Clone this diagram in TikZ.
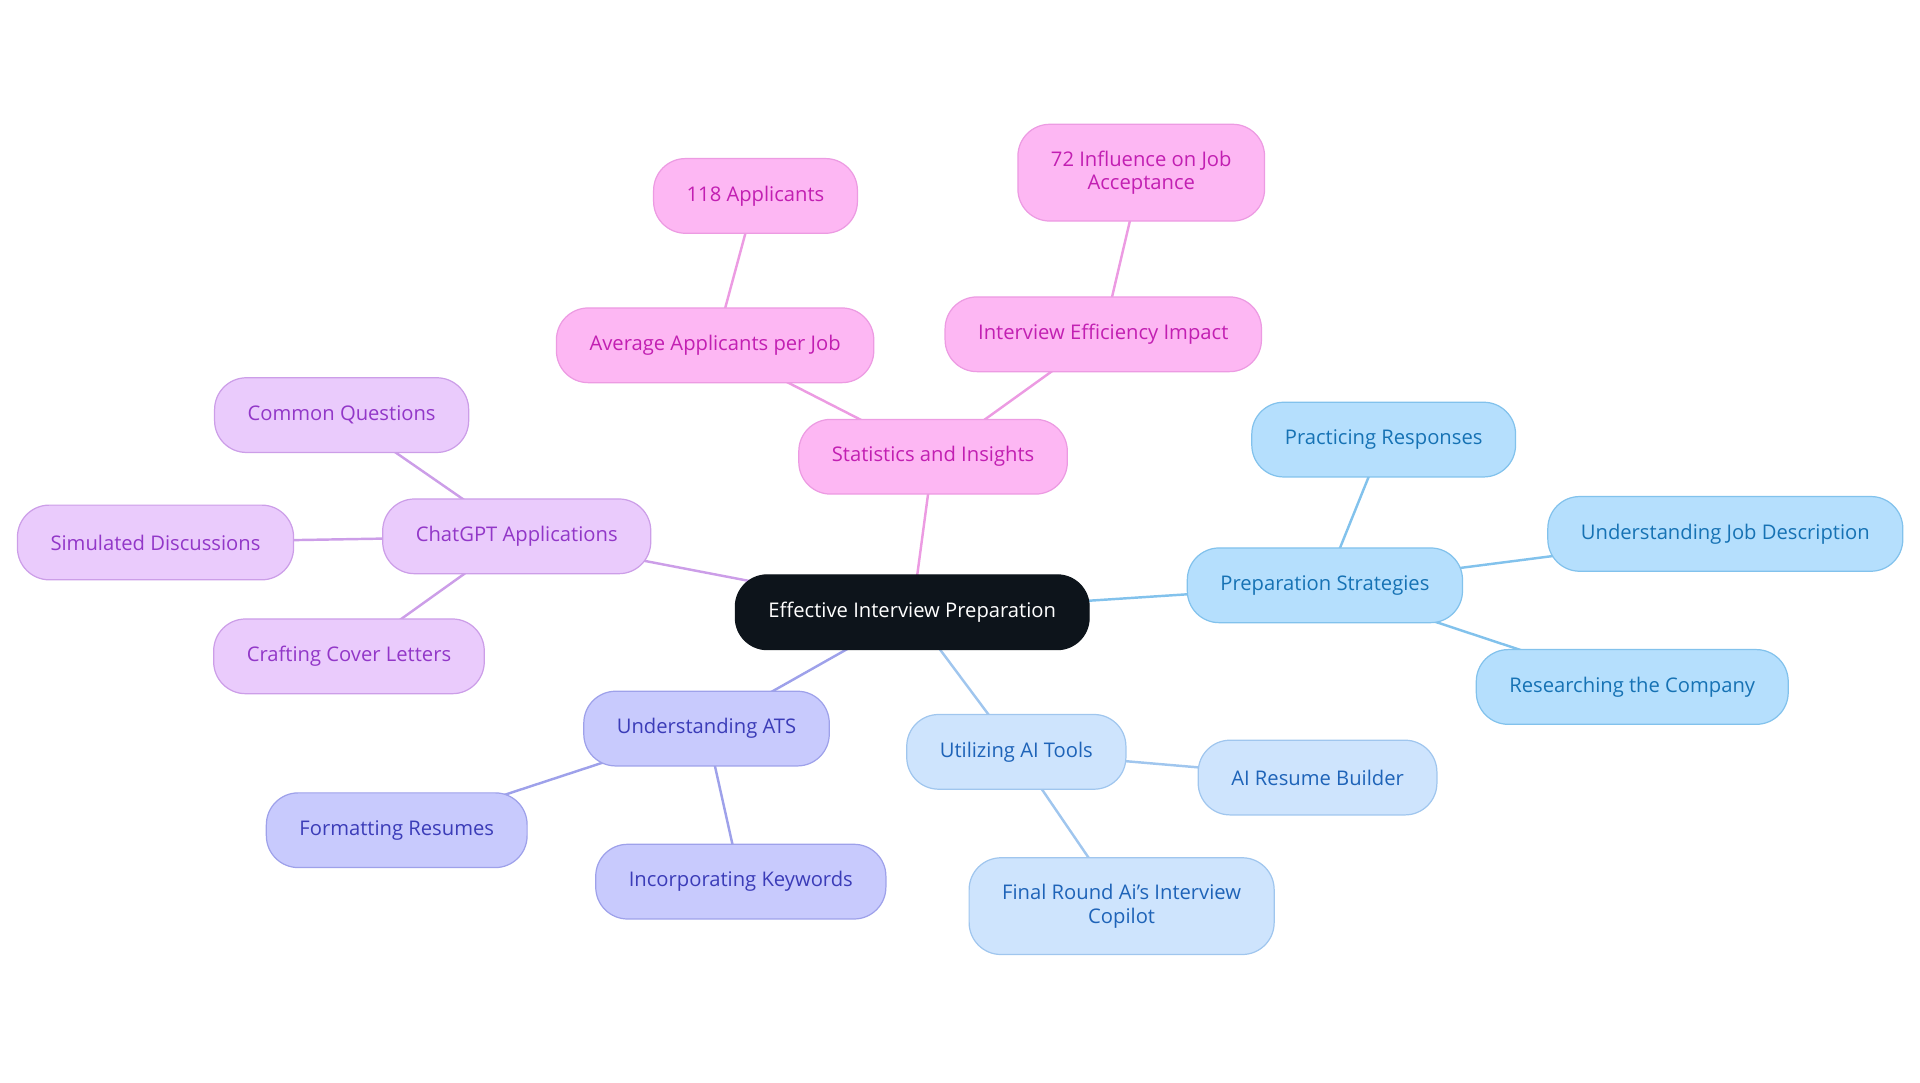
\documentclass[tikz,border=0pt]{standalone}
\usepackage{fontspec}
\setmainfont{Open Sans}
\usepackage{xcolor}
\definecolor{Ink}{RGB}{13,20,27}
\definecolor{White}{RGB}{255,255,255}
\definecolor{PinkFill}{RGB}{253,183,243}
\definecolor{PinkLine}{RGB}{236,155,226}
\definecolor{PinkText}{RGB}{194,31,178}
\definecolor{LilacFill}{RGB}{234,203,252}
\definecolor{LilacLine}{RGB}{204,158,232}
\definecolor{LilacText}{RGB}{146,55,200}
\definecolor{IndigoFill}{RGB}{200,202,253}
\definecolor{IndigoLine}{RGB}{158,161,234}
\definecolor{IndigoText}{RGB}{59,60,184}
\definecolor{PaleFill}{RGB}{206,228,253}
\definecolor{PaleLine}{RGB}{160,198,238}
\definecolor{PaleText}{RGB}{30,99,184}
\definecolor{SkyFill}{RGB}{181,223,253}
\definecolor{SkyLine}{RGB}{130,194,236}
\definecolor{SkyText}{RGB}{22,114,180}
\usepackage{tikz}
\usetikzlibrary{backgrounds}

\begin{document}
\begin{tikzpicture}[x=1pt, y=-1pt,
	bubble/.style={rounded corners=26pt, line width=1pt, minimum height=61pt, inner xsep=27pt, align=center, font=\fontsize{16.5}{19}\selectfont},
	pink/.style={bubble, fill=PinkFill, draw=PinkLine, text=PinkText},
	lilac/.style={bubble, fill=LilacFill, draw=LilacLine, text=LilacText},
	indigo/.style={bubble, fill=IndigoFill, draw=IndigoLine, text=IndigoText},
	pale/.style={bubble, fill=PaleFill, draw=PaleLine, text=PaleText},
	sky/.style={bubble, fill=SkyFill, draw=SkyLine, text=SkyText},
	root/.style={bubble, fill=Ink, draw=Ink, text=White},
	twoline/.style={minimum height=79pt},
	link/.style={line width=2pt}]
		
		% Frame
		\useasboundingbox (0,0) rectangle (1568,884);
		
		% Root
		\node[root] (prep) at (745,500) {Effective Interview Preparation};
		
		% Statistics
		\node[pink] (stats) at (762,373) {Statistics and Insights};
		\node[pink] (avg) at (584,282) {Average Applicants per Job};
		\node[pink] (app) at (617,160) {118 Applicants};
		\node[pink] (eff) at (901,273) {Interview Efficiency Impact};
		\node[pink, twoline] (accept) at (932,141) {72 Influence on Job\\Acceptance};
		
		% ChatGPT
		\node[lilac] (gpt) at (422,438) {ChatGPT Applications};
		\node[lilac] (quest) at (279,339) {Common Questions};
		\node[lilac] (sim) at (127,443) {Simulated Discussions};
		\node[lilac] (cover) at (285,536) {Crafting Cover Letters};
		
		% ATS
		\node[indigo] (ats) at (577,595) {Understanding ATS};
		\node[indigo] (fmt) at (324,678) {Formatting Resumes};
		\node[indigo] (kw) at (605,720) {Incorporating Keywords};
		
		% AI tools
		\node[pale] (tools) at (830,614) {Utilizing AI Tools};
		\node[pale] (builder) at (1076,635) {AI Resume Builder};
		\node[pale, twoline] (copilot) at (916,740) {Final Round Ai's Interview\\Copilot};
		
		% Strategies
		\node[sky] (strat) at (1082,478) {Preparation Strategies};
		\node[sky] (resp) at (1130,359) {Practicing Responses};
		\node[sky] (desc) at (1409,436) {Understanding Job Description};
		\node[sky] (comp) at (1333,561) {Researching the Company};
		
		% Links
		\begin{pgfonlayer}{background}
			\draw[link, PinkLine] (prep.center) -- (stats.center);
			\draw[link, PinkLine] (stats.center) -- (avg.center);
			\draw[link, PinkLine] (avg.center) -- (app.center);
			\draw[link, PinkLine] (stats.center) -- (eff.center);
			\draw[link, PinkLine] (eff.center) -- (accept.center);
			
			\draw[link, LilacLine] (prep.center) -- (gpt.center);
			\draw[link, LilacLine] (gpt.center) -- (quest.center);
			\draw[link, LilacLine] (gpt.center) -- (sim.center);
			\draw[link, LilacLine] (gpt.center) -- (cover.center);
			
			\draw[link, IndigoLine] (prep.center) -- (ats.center);
			\draw[link, IndigoLine] (ats.center) -- (fmt.center);
			\draw[link, IndigoLine] (ats.center) -- (kw.center);
			
			\draw[link, PaleLine] (prep.center) -- (tools.center);
			\draw[link, PaleLine] (tools.center) -- (builder.center);
			\draw[link, PaleLine] (tools.center) -- (copilot.center);
			
			\draw[link, SkyLine] (prep.center) -- (strat.center);
			\draw[link, SkyLine] (strat.center) -- (resp.center);
			\draw[link, SkyLine] (strat.center) -- (desc.center);
			\draw[link, SkyLine] (strat.center) -- (comp.center);
		\end{pgfonlayer}
		
	\end{tikzpicture}
\end{document}
